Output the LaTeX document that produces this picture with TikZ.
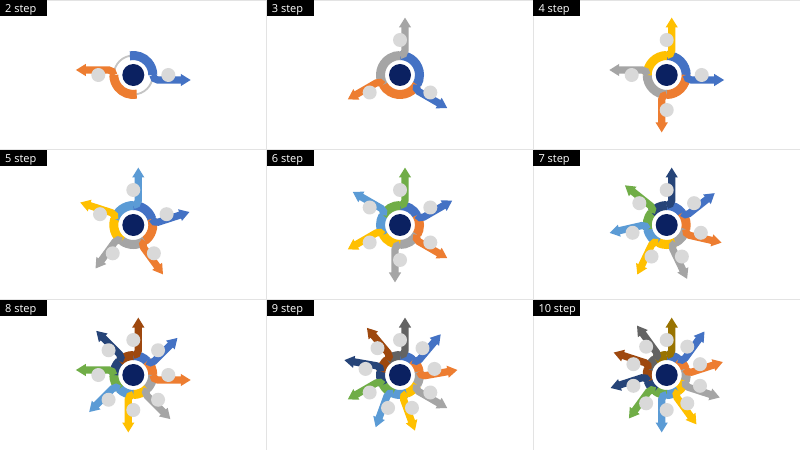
\documentclass[tikz,border=0pt]{standalone}
\usepackage{fontspec}
\setmainfont{Open Sans}
\usetikzlibrary{arrows.meta}
\definecolor{wc1}{HTML}{4472C4}
\definecolor{wc2}{HTML}{ED7D31}
\definecolor{wc3}{HTML}{A5A5A5}
\definecolor{wc4}{HTML}{FFC000}
\definecolor{wc5}{HTML}{5B9BD5}
\definecolor{wc6}{HTML}{70AD47}
\definecolor{wc7}{HTML}{264478}
\definecolor{wc8}{HTML}{9E480E}
\definecolor{wc9}{HTML}{636363}
\definecolor{wc10}{HTML}{997300}
\definecolor{navyc}{HTML}{0B2161}
\definecolor{dotc}{HTML}{D9D9D9}
\definecolor{gridc}{HTML}{E3E3E3}
\definecolor{thinringc}{HTML}{C4C4C4}
\tikzset{
  bandarc/.style={line width=9pt},
  bandshaft/.style={line width=7.2pt, -{Triangle[width=11.5pt,length=10pt]}},
  thinring/.style={draw=thinringc, line width=1.8pt},
  gridline/.style={draw=gridc, line width=1pt},
  labbox/.style={fill=black},
  labtext/.style={text=white, inner sep=0pt, anchor=base west, font=\fontsize{11}{13}\selectfont},
}
% #1 cx, #2 cy, #3 N, #4 angle offset, #5 arc span
\newcommand\drawwheel[5]{%
  \begin{scope}[shift={(#1,#2)}]
    \draw[thinring] (0,0) circle[radius=19.5];
    \foreach \k in {1,...,#3}{%
      \pgfmathsetmacro\ph{#4-\k*360/#3}%
      \pgfmathsetmacro\sa{\ph+#5}%
      \coordinate (s\k) at (\sa:19.5);
      \draw[bandarc, draw=wc\k] (s\k) arc[start angle=\sa, end angle=\ph, radius=19.5];
    }
    \foreach \k in {1,...,#3}{%
      \pgfmathsetmacro\ph{#4-\k*360/#3}%
      \pgfmathsetmacro\ta{\ph+180}%
      \pgfmathsetmacro\tb{\ph+270}%
      \pgfmathsetmacro\tx{57.5*cos(\ph)+5*sin(\ph)}%
      \pgfmathsetmacro\ty{57.5*sin(\ph)-5*cos(\ph)}%
      \coordinate (e\k) at (\ph:19.5);
      \coordinate (t\k) at (\tx,\ty);
      \draw[bandshaft, draw=wc\k] (e\k) arc[start angle=\ta, end angle=\tb, radius=5] -- (t\k);
    }
    \foreach \k in {1,...,#3}{%
      \pgfmathsetmacro\ph{#4-\k*360/#3}%
      \node[circle, fill=dotc, minimum size=14pt, inner sep=0pt] (d\k) at (\ph:35) {};
    }
    \node[circle, fill=navyc, minimum size=22pt, inner sep=0pt] (hub) at (0,0) {};
  \end{scope}}
\newcommand\drawlabel[3]{%
  \fill[labbox] (#1,#2) rectangle ++(47,-16);
  \node[labtext] (lab#3) at (#1+5,#2-12.5) {#3 step};}
\begin{document}
\begin{tikzpicture}[x=1pt,y=1pt]
\useasboundingbox (0,0) rectangle (800,450);
\fill[white] (0,0) rectangle (800,450);
% grid
\draw[gridline] (0,449.5) -- (800,449.5);
\draw[gridline] (0,300) -- (800,300);
\draw[gridline] (0,150) -- (800,150);
\draw[gridline] (266.7,0) -- (266.7,450);
\draw[gridline] (533.3,0) -- (533.3,450);
% wheels
\drawwheel{133.3}{375}{2}{180}{100}
\drawwheel{400}{375}{3}{90}{120}
\drawwheel{666.7}{375}{4}{90}{90}
\drawwheel{133.3}{225}{5}{90}{72}
\drawwheel{400}{225}{6}{90}{60}
\drawwheel{666.7}{225}{7}{90}{51.43}
\drawwheel{133.3}{75}{8}{90}{45}
\drawwheel{400}{75}{9}{90}{40}
\drawwheel{666.7}{75}{10}{90}{36}
% labels
\drawlabel{0}{450}{2}
\drawlabel{266.7}{450}{3}
\drawlabel{533.3}{450}{4}
\drawlabel{0}{300}{5}
\drawlabel{266.7}{300}{6}
\drawlabel{533.3}{300}{7}
\drawlabel{0}{150}{8}
\drawlabel{266.7}{150}{9}
\drawlabel{533.3}{150}{10}
\end{tikzpicture}
\end{document}
